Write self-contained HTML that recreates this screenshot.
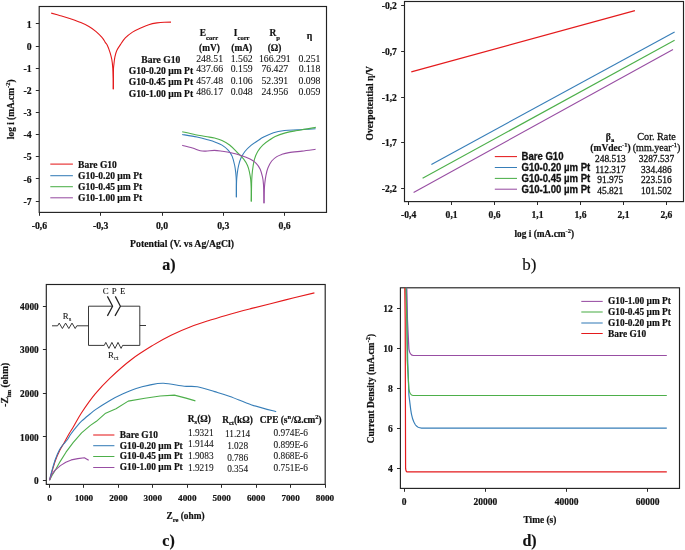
<!DOCTYPE html>
<html><head><meta charset="utf-8"><title>Figure</title>
<style>
html,body{margin:0;padding:0;background:#fff;}
svg{display:block;}
text{font-family:"Liberation Serif",serif;font-size:9.75px;fill:#111;}
.b{font-weight:bold;stroke:#111;stroke-width:0.2px;}
.r{font-weight:normal;stroke:#111;stroke-width:0.08px;}
.r2{font-weight:normal;stroke:#111;stroke-width:0.28px;}
.s{font-family:"Liberation Sans",sans-serif;font-weight:bold;stroke:#111;stroke-width:0.3px;}
.cap{font-size:16px;stroke-width:0.15px;}
</style></head><body>
<svg width="685" height="550" viewBox="0 0 685 550">
<rect width="685" height="550" fill="#fff"/>
<rect x="39.2" y="6.5" width="287.3" height="205.9" fill="none" stroke="#222" stroke-width="1.15"/>
<line x1="35.8" y1="23.5" x2="39.2" y2="23.5" stroke="#2a2a2a" stroke-width="1.0"/>
<text x="31.6" y="27.6" text-anchor="end" class="b">1</text>
<line x1="35.8" y1="46.5" x2="39.2" y2="46.5" stroke="#2a2a2a" stroke-width="1.0"/>
<text x="31.6" y="49.7" text-anchor="end" class="b">0</text>
<line x1="35.8" y1="68.5" x2="39.2" y2="68.5" stroke="#2a2a2a" stroke-width="1.0"/>
<text x="31.6" y="71.8" text-anchor="end" class="b">-1</text>
<line x1="35.8" y1="90.5" x2="39.2" y2="90.5" stroke="#2a2a2a" stroke-width="1.0"/>
<text x="31.6" y="94.0" text-anchor="end" class="b">-2</text>
<line x1="35.8" y1="112.5" x2="39.2" y2="112.5" stroke="#2a2a2a" stroke-width="1.0"/>
<text x="31.6" y="116.1" text-anchor="end" class="b">-3</text>
<line x1="35.8" y1="134.5" x2="39.2" y2="134.5" stroke="#2a2a2a" stroke-width="1.0"/>
<text x="31.6" y="138.3" text-anchor="end" class="b">-4</text>
<line x1="35.8" y1="156.5" x2="39.2" y2="156.5" stroke="#2a2a2a" stroke-width="1.0"/>
<text x="31.6" y="160.4" text-anchor="end" class="b">-5</text>
<line x1="35.8" y1="178.5" x2="39.2" y2="178.5" stroke="#2a2a2a" stroke-width="1.0"/>
<text x="31.6" y="182.6" text-anchor="end" class="b">-6</text>
<line x1="35.8" y1="201.5" x2="39.2" y2="201.5" stroke="#2a2a2a" stroke-width="1.0"/>
<text x="31.6" y="204.7" text-anchor="end" class="b">-7</text>
<line x1="39.5" y1="212.4" x2="39.5" y2="215.8" stroke="#2a2a2a" stroke-width="1.0"/>
<text x="39.4" y="229.3" text-anchor="middle" class="b">-0,6</text>
<line x1="100.5" y1="212.4" x2="100.5" y2="215.8" stroke="#2a2a2a" stroke-width="1.0"/>
<text x="100.7" y="229.3" text-anchor="middle" class="b">-0,3</text>
<line x1="162.5" y1="212.4" x2="162.5" y2="215.8" stroke="#2a2a2a" stroke-width="1.0"/>
<text x="162.0" y="229.3" text-anchor="middle" class="b">0,0</text>
<line x1="223.5" y1="212.4" x2="223.5" y2="215.8" stroke="#2a2a2a" stroke-width="1.0"/>
<text x="223.3" y="229.3" text-anchor="middle" class="b">0,3</text>
<line x1="284.5" y1="212.4" x2="284.5" y2="215.8" stroke="#2a2a2a" stroke-width="1.0"/>
<text x="284.6" y="229.3" text-anchor="middle" class="b">0,6</text>
<text x="182.0" y="247.4" text-anchor="middle" class="b">Potential (V. vs Ag/AgCl)</text>
<text transform="translate(14.2,109.3) rotate(-90)" text-anchor="middle" class="b" style="font-size:9.35px">log i (mA.cm<tspan dy="-4.5" font-size="6.5">-2</tspan><tspan dy="4.5">)</tspan></text>
<text x="168.8" y="270.2" text-anchor="middle" class="b cap">a)</text>
<path d="M51.2,13.1 C52.7,13.5 57.1,14.8 60.3,15.7 C63.5,16.6 67.1,17.6 70.5,18.8 C73.9,20.0 77.7,21.3 80.8,22.6 C83.9,23.9 86.4,25.0 88.9,26.5 C91.5,28.0 93.9,29.7 96.1,31.6 C98.3,33.5 100.7,35.9 102.2,37.7 C103.8,39.5 104.5,41.3 105.4,42.6 C106.3,43.9 106.7,43.9 107.4,45.4 C108.1,46.9 109.1,49.5 109.8,51.8 C110.5,54.1 111.3,56.6 111.8,59.4 C112.3,62.1 112.6,65.2 112.8,68.3 C113.0,71.4 113.1,74.5 113.2,78.0 C113.3,81.5 113.3,87.4 113.3,89.3" fill="none" stroke="#e41a1c" stroke-width="1.1" stroke-linejoin="round"/>
<path d="M113.3,89.3 C113.3,87.4 113.4,81.5 113.4,78.0 C113.4,74.5 113.4,70.5 113.5,68.3 C113.6,66.0 113.7,66.4 113.9,64.5 C114.1,62.6 114.4,59.1 114.9,56.8 C115.4,54.5 115.9,52.5 116.8,50.5 C117.7,48.5 119.0,46.7 120.4,44.6 C121.8,42.5 123.3,40.0 125.3,37.9 C127.3,35.8 129.9,33.8 132.5,32.1 C135.1,30.5 138.0,29.2 140.7,28.0 C143.4,26.8 146.1,25.6 148.8,24.7 C151.5,23.8 154.4,23.3 157.0,22.9 C159.6,22.5 161.9,22.3 164.2,22.2 C166.5,22.1 169.9,22.1 171.0,22.1" fill="none" stroke="#e41a1c" stroke-width="1.1" stroke-linejoin="round"/>
<path d="M182.2,134.5 C184.6,134.9 192.6,136.1 196.9,137.0 C201.2,137.9 204.6,138.9 207.8,139.8 C211.0,140.7 213.6,141.5 216.0,142.4 C218.4,143.3 219.9,143.8 222.0,145.1 C224.1,146.4 226.7,148.4 228.4,150.3 C230.1,152.2 231.1,153.9 232.2,156.4 C233.2,158.9 234.1,162.7 234.7,165.5 C235.3,168.3 235.5,170.5 235.8,173.1 C236.1,175.7 236.2,176.8 236.3,180.8 C236.4,184.8 236.4,194.6 236.4,197.3" fill="none" stroke="#377eb8" stroke-width="1.1" stroke-linejoin="round"/>
<path d="M236.4,197.3 C236.4,194.6 236.4,184.8 236.6,180.8 C236.8,176.8 237.0,175.7 237.3,173.1 C237.6,170.5 238.0,168.1 238.6,165.5 C239.2,162.9 240.0,160.1 241.1,157.8 C242.2,155.5 243.2,153.6 244.9,151.5 C246.6,149.4 249.0,147.0 251.3,145.1 C253.6,143.2 257.0,141.2 258.9,140.0 C260.8,138.8 260.2,138.8 262.6,137.6 C265.0,136.4 269.9,133.9 273.5,132.7 C277.1,131.5 280.5,131.0 284.5,130.5 C288.5,130.0 294.0,130.1 297.6,129.9 C301.2,129.7 303.4,129.4 306.4,129.2 C309.4,129.0 314.1,128.9 315.6,128.8" fill="none" stroke="#377eb8" stroke-width="1.1" stroke-linejoin="round"/>
<path d="M182.2,131.7 C184.4,132.2 191.5,133.9 195.4,134.7 C199.3,135.5 202.5,135.9 205.7,136.5 C208.9,137.1 211.8,137.3 214.5,138.0 C217.2,138.7 219.5,139.4 222.0,140.6 C224.5,141.8 227.0,143.0 229.6,145.0 C232.2,147.0 235.0,150.2 237.3,152.5 C239.7,154.8 242.0,156.9 243.7,159.1 C245.4,161.3 246.6,163.4 247.5,165.5 C248.4,167.6 248.9,169.5 249.4,171.8 C249.9,174.1 250.4,176.7 250.7,179.5 C251.0,182.3 251.1,184.8 251.2,188.4 C251.3,192.1 251.3,199.2 251.3,201.4" fill="none" stroke="#4daf4a" stroke-width="1.1" stroke-linejoin="round"/>
<path d="M251.3,201.4 C251.4,198.4 251.5,187.8 251.6,183.3 C251.7,178.8 251.9,177.2 252.1,174.4 C252.3,171.7 252.6,169.4 253.0,166.8 C253.4,164.2 253.7,161.7 254.5,159.1 C255.3,156.5 256.3,153.8 257.7,151.5 C259.1,149.2 260.8,147.0 262.8,145.1 C264.8,143.2 267.7,141.2 269.8,139.8 C271.9,138.4 272.6,137.6 275.2,136.4 C277.8,135.2 282.0,133.8 285.4,132.9 C288.8,132.0 292.3,131.4 295.7,130.8 C299.1,130.2 302.5,129.7 305.9,129.1 C309.2,128.5 314.1,127.7 315.8,127.4" fill="none" stroke="#4daf4a" stroke-width="1.1" stroke-linejoin="round"/>
<path d="M182.2,145.4 C183.9,145.8 189.5,147.1 192.5,148.0 C195.5,148.9 198.0,150.2 200.2,150.7 C202.4,151.2 203.3,151.1 205.7,151.1 C208.1,151.1 211.7,150.4 214.4,150.4 C217.1,150.4 219.2,150.8 222.0,151.2 C224.8,151.6 227.7,152.0 230.9,152.7 C234.1,153.4 237.9,154.4 241.1,155.5 C244.3,156.6 247.4,157.8 250.0,159.1 C252.6,160.4 254.7,161.9 256.4,163.6 C258.1,165.3 259.2,167.1 260.2,169.3 C261.2,171.5 261.9,174.4 262.5,176.9 C263.1,179.4 263.2,180.2 263.5,184.6 C263.8,189.0 263.9,200.2 264.0,203.3" fill="none" stroke="#984ea3" stroke-width="1.1" stroke-linejoin="round"/>
<path d="M264.0,203.3 C264.1,201.2 264.2,194.3 264.3,191.0 C264.4,187.7 264.5,185.9 264.8,183.3 C265.1,180.8 265.4,178.2 265.9,175.7 C266.4,173.1 266.9,170.4 267.9,168.0 C268.9,165.6 270.2,162.9 271.7,161.0 C273.2,159.1 275.1,157.7 276.8,156.6 C278.5,155.5 280.0,155.0 282.0,154.3 C284.0,153.6 285.6,153.1 288.9,152.6 C292.2,152.1 297.6,151.6 302.0,151.1 C306.4,150.6 313.3,149.6 315.6,149.3" fill="none" stroke="#984ea3" stroke-width="1.1" stroke-linejoin="round"/>
<line x1="50.3" y1="164.1" x2="72.9" y2="164.1" stroke="#e41a1c" stroke-width="1.05"/>
<text x="78.1" y="167.7" text-anchor="start" class="b" style="font-size:9.55px">Bare G10</text>
<line x1="50.3" y1="175.7" x2="72.9" y2="175.7" stroke="#377eb8" stroke-width="1.05"/>
<text x="78.1" y="179.3" text-anchor="start" class="b" style="font-size:9.55px">G10-0.20 µm Pt</text>
<line x1="50.3" y1="186.7" x2="72.9" y2="186.7" stroke="#4daf4a" stroke-width="1.05"/>
<text x="78.1" y="190.3" text-anchor="start" class="b" style="font-size:9.55px">G10-0.45 µm Pt</text>
<line x1="50.3" y1="197.8" x2="72.9" y2="197.8" stroke="#984ea3" stroke-width="1.05"/>
<text x="78.1" y="201.4" text-anchor="start" class="b" style="font-size:9.55px">G10-1.00 µm Pt</text>
<text x="209.0" y="36.0" text-anchor="middle" class="b" style="font-size:9.35px">E<tspan dy="3.5" font-size="6.6">corr</tspan></text>
<text x="209.5" y="50.7" text-anchor="middle" class="b" style="font-size:9.35px">(mV)</text>
<text x="241.7" y="36.0" text-anchor="middle" class="b" style="font-size:9.35px">I<tspan dy="3.5" font-size="6.6">corr</tspan></text>
<text x="241.7" y="50.7" text-anchor="middle" class="b" style="font-size:9.35px">(mA)</text>
<text x="274.6" y="36.0" text-anchor="middle" class="b" style="font-size:9.35px">R<tspan dy="3.5" font-size="6.6">p</tspan></text>
<text x="274.6" y="50.7" text-anchor="middle" class="b" style="font-size:9.35px">(Ω)</text>
<text x="309.5" y="39.0" text-anchor="middle" class="b">η</text>
<text x="160.8" y="63.4" text-anchor="middle" class="b" style="font-size:9.6px">Bare G10</text>
<text x="209.6" y="61.8" text-anchor="middle" class="r">248.51</text>
<text x="241.7" y="61.8" text-anchor="middle" class="r">1.562</text>
<text x="274.8" y="61.8" text-anchor="middle" class="r">166.291</text>
<text x="309.5" y="61.8" text-anchor="middle" class="r">0.251</text>
<text x="193.2" y="74.1" text-anchor="end" class="b" style="font-size:9.6px">G10-0.20 µm Pt</text>
<text x="209.6" y="72.3" text-anchor="middle" class="r">437.66</text>
<text x="241.7" y="72.3" text-anchor="middle" class="r">0.159</text>
<text x="274.8" y="72.3" text-anchor="middle" class="r">76.427</text>
<text x="309.5" y="72.3" text-anchor="middle" class="r">0.118</text>
<text x="193.2" y="85.1" text-anchor="end" class="b" style="font-size:9.6px">G10-0.45 µm Pt</text>
<text x="209.6" y="84.2" text-anchor="middle" class="r">457.48</text>
<text x="241.7" y="84.2" text-anchor="middle" class="r">0.106</text>
<text x="274.8" y="84.2" text-anchor="middle" class="r">52.391</text>
<text x="309.5" y="84.2" text-anchor="middle" class="r">0.098</text>
<text x="193.2" y="97.0" text-anchor="end" class="b" style="font-size:9.6px">G10-1.00 µm Pt</text>
<text x="209.6" y="95.2" text-anchor="middle" class="r">486.17</text>
<text x="241.7" y="95.2" text-anchor="middle" class="r">0.048</text>
<text x="274.8" y="95.2" text-anchor="middle" class="r">24.956</text>
<text x="309.5" y="95.2" text-anchor="middle" class="r">0.059</text>
<rect x="404.5" y="1.5" width="279.0" height="200.1" fill="none" stroke="#222" stroke-width="1.15"/>
<line x1="401.1" y1="5.5" x2="404.5" y2="5.5" stroke="#2a2a2a" stroke-width="1.0"/>
<text x="396.9" y="9.0" text-anchor="end" class="b" style="font-size:9.6px">-0,2</text>
<line x1="401.1" y1="51.5" x2="404.5" y2="51.5" stroke="#2a2a2a" stroke-width="1.0"/>
<text x="396.9" y="54.7" text-anchor="end" class="b" style="font-size:9.6px">-0,7</text>
<line x1="401.1" y1="97.5" x2="404.5" y2="97.5" stroke="#2a2a2a" stroke-width="1.0"/>
<text x="396.9" y="100.5" text-anchor="end" class="b" style="font-size:9.6px">-1,2</text>
<line x1="401.1" y1="142.5" x2="404.5" y2="142.5" stroke="#2a2a2a" stroke-width="1.0"/>
<text x="396.9" y="146.2" text-anchor="end" class="b" style="font-size:9.6px">-1,7</text>
<line x1="401.1" y1="188.5" x2="404.5" y2="188.5" stroke="#2a2a2a" stroke-width="1.0"/>
<text x="396.9" y="192.0" text-anchor="end" class="b" style="font-size:9.6px">-2,2</text>
<line x1="408.5" y1="201.6" x2="408.5" y2="205.0" stroke="#2a2a2a" stroke-width="1.0"/>
<text x="408.7" y="218.3" text-anchor="middle" class="b" style="font-size:9.6px">-0,4</text>
<line x1="451.5" y1="201.6" x2="451.5" y2="205.0" stroke="#2a2a2a" stroke-width="1.0"/>
<text x="451.6" y="218.3" text-anchor="middle" class="b" style="font-size:9.6px">0,1</text>
<line x1="494.5" y1="201.6" x2="494.5" y2="205.0" stroke="#2a2a2a" stroke-width="1.0"/>
<text x="494.6" y="218.3" text-anchor="middle" class="b" style="font-size:9.6px">0,6</text>
<line x1="537.5" y1="201.6" x2="537.5" y2="205.0" stroke="#2a2a2a" stroke-width="1.0"/>
<text x="537.5" y="218.3" text-anchor="middle" class="b" style="font-size:9.6px">1,1</text>
<line x1="580.5" y1="201.6" x2="580.5" y2="205.0" stroke="#2a2a2a" stroke-width="1.0"/>
<text x="580.5" y="218.3" text-anchor="middle" class="b" style="font-size:9.6px">1,6</text>
<line x1="623.5" y1="201.6" x2="623.5" y2="205.0" stroke="#2a2a2a" stroke-width="1.0"/>
<text x="623.5" y="218.3" text-anchor="middle" class="b" style="font-size:9.6px">2,1</text>
<line x1="666.5" y1="201.6" x2="666.5" y2="205.0" stroke="#2a2a2a" stroke-width="1.0"/>
<text x="666.4" y="218.3" text-anchor="middle" class="b" style="font-size:9.6px">2,6</text>
<text x="544.3" y="237.3" text-anchor="middle" class="b" style="font-size:9.35px">log i (mA.cm<tspan dy="-4.5" font-size="6.5">-2</tspan><tspan dy="4.5">)</tspan></text>
<text transform="translate(372.8,103.2) rotate(-90)" text-anchor="middle" class="b" style="font-size:9.6px">Overpotential η/V</text>
<text x="529.4" y="269.5" text-anchor="middle" class="r cap" style="font-size:17px">b)</text>
<line x1="411.3" y1="71.9" x2="634.9" y2="10.6" stroke="#e41a1c" stroke-width="1.1"/>
<line x1="431.4" y1="164.5" x2="674.6" y2="31.9" stroke="#377eb8" stroke-width="1.1"/>
<line x1="422.6" y1="178.3" x2="674.6" y2="40.2" stroke="#4daf4a" stroke-width="1.1"/>
<line x1="413.6" y1="192.4" x2="673.0" y2="49.5" stroke="#984ea3" stroke-width="1.1"/>
<line x1="494.8" y1="156.6" x2="517.0" y2="156.6" stroke="#e41a1c" stroke-width="1.05"/>
<text transform="translate(521.5,160.1) scale(0.94,1)" class="s" style="font-size:10.2px">Bare G10</text>
<line x1="494.8" y1="167.5" x2="517.0" y2="167.5" stroke="#377eb8" stroke-width="1.05"/>
<text transform="translate(521.5,170.8) scale(0.94,1)" class="s" style="font-size:10.2px">G10-0.20 µm Pt</text>
<line x1="494.8" y1="178.4" x2="517.0" y2="178.4" stroke="#4daf4a" stroke-width="1.05"/>
<text transform="translate(521.5,181.8) scale(0.94,1)" class="s" style="font-size:10.2px">G10-0.45 µm Pt</text>
<line x1="494.8" y1="189.2" x2="517.0" y2="189.2" stroke="#984ea3" stroke-width="1.05"/>
<text transform="translate(521.5,192.7) scale(0.94,1)" class="s" style="font-size:10.2px">G10-1.00 µm Pt</text>
<text x="610.0" y="139.9" text-anchor="middle" class="b">β<tspan dy="2" font-size="6.6">a</tspan></text>
<text x="610.5" y="150.7" text-anchor="middle" class="b" style="font-size:9.55px">(mVdec<tspan dy="-3.3" font-size="6.5">-1</tspan><tspan dy="3.3">)</tspan></text>
<text x="656.5" y="139.9" text-anchor="middle" class="r2" style="font-size:10.2px">Cor. Rate</text>
<text x="656.6" y="150.7" text-anchor="middle" class="r2" style="font-size:10.1px">(mm.year<tspan dy="-3.3" font-size="6.5">-1</tspan><tspan dy="3.3">)</tspan></text>
<text x="610.3" y="161.7" text-anchor="middle" class="r2" style="font-size:9.45px">248.513</text>
<text x="656.4" y="161.7" text-anchor="middle" class="r2" style="font-size:9.45px">3287.537</text>
<text x="610.3" y="172.5" text-anchor="middle" class="r2" style="font-size:9.45px">112.317</text>
<text x="656.4" y="172.5" text-anchor="middle" class="r2" style="font-size:9.45px">334.486</text>
<text x="610.3" y="183.4" text-anchor="middle" class="r2" style="font-size:9.45px">91.975</text>
<text x="656.4" y="183.4" text-anchor="middle" class="r2" style="font-size:9.45px">223.516</text>
<text x="610.3" y="194.2" text-anchor="middle" class="r2" style="font-size:9.45px">45.821</text>
<text x="656.4" y="194.2" text-anchor="middle" class="r2" style="font-size:9.45px">101.502</text>
<rect x="46.3" y="284.5" width="278.9" height="199.9" fill="none" stroke="#222" stroke-width="1.15"/>
<line x1="42.9" y1="480.5" x2="46.3" y2="480.5" stroke="#2a2a2a" stroke-width="1.0"/>
<text x="38.7" y="484.1" text-anchor="end" class="b" style="font-size:9.3px">0</text>
<line x1="42.9" y1="436.5" x2="46.3" y2="436.5" stroke="#2a2a2a" stroke-width="1.0"/>
<text x="38.7" y="440.5" text-anchor="end" class="b" style="font-size:9.3px">1000</text>
<line x1="42.9" y1="393.5" x2="46.3" y2="393.5" stroke="#2a2a2a" stroke-width="1.0"/>
<text x="38.7" y="397.0" text-anchor="end" class="b" style="font-size:9.3px">2000</text>
<line x1="42.9" y1="349.5" x2="46.3" y2="349.5" stroke="#2a2a2a" stroke-width="1.0"/>
<text x="38.7" y="353.4" text-anchor="end" class="b" style="font-size:9.3px">3000</text>
<line x1="42.9" y1="306.5" x2="46.3" y2="306.5" stroke="#2a2a2a" stroke-width="1.0"/>
<text x="38.7" y="309.9" text-anchor="end" class="b" style="font-size:9.3px">4000</text>
<line x1="49.5" y1="484.4" x2="49.5" y2="487.8" stroke="#2a2a2a" stroke-width="1.0"/>
<text x="49.5" y="501.0" text-anchor="middle" class="b" style="font-size:9.2px">0</text>
<line x1="83.5" y1="484.4" x2="83.5" y2="487.8" stroke="#2a2a2a" stroke-width="1.0"/>
<text x="83.9" y="501.0" text-anchor="middle" class="b" style="font-size:9.2px">1000</text>
<line x1="118.5" y1="484.4" x2="118.5" y2="487.8" stroke="#2a2a2a" stroke-width="1.0"/>
<text x="118.4" y="501.0" text-anchor="middle" class="b" style="font-size:9.2px">2000</text>
<line x1="152.5" y1="484.4" x2="152.5" y2="487.8" stroke="#2a2a2a" stroke-width="1.0"/>
<text x="152.8" y="501.0" text-anchor="middle" class="b" style="font-size:9.2px">3000</text>
<line x1="187.5" y1="484.4" x2="187.5" y2="487.8" stroke="#2a2a2a" stroke-width="1.0"/>
<text x="187.3" y="501.0" text-anchor="middle" class="b" style="font-size:9.2px">4000</text>
<line x1="221.5" y1="484.4" x2="221.5" y2="487.8" stroke="#2a2a2a" stroke-width="1.0"/>
<text x="221.7" y="501.0" text-anchor="middle" class="b" style="font-size:9.2px">5000</text>
<line x1="256.5" y1="484.4" x2="256.5" y2="487.8" stroke="#2a2a2a" stroke-width="1.0"/>
<text x="256.1" y="501.0" text-anchor="middle" class="b" style="font-size:9.2px">6000</text>
<line x1="290.5" y1="484.4" x2="290.5" y2="487.8" stroke="#2a2a2a" stroke-width="1.0"/>
<text x="290.6" y="501.0" text-anchor="middle" class="b" style="font-size:9.2px">7000</text>
<line x1="325.5" y1="484.4" x2="325.5" y2="487.8" stroke="#2a2a2a" stroke-width="1.0"/>
<text x="325.0" y="501.0" text-anchor="middle" class="b" style="font-size:9.2px">8000</text>
<text x="185.5" y="518.5" text-anchor="middle" class="b" style="font-size:9.3px">Z<tspan dy="3" font-size="6.6">re</tspan><tspan dy="-3"> (ohm)</tspan></text>
<text transform="translate(7.8,384.8) rotate(-90)" text-anchor="middle" class="b" style="font-size:9.65px">-Z<tspan dy="2.8" font-size="6.6">im</tspan><tspan dy="-2.8"> (ohm)</tspan></text>
<text x="168.5" y="546.2" text-anchor="middle" class="b cap">c)</text>
<path d="M49.5,480.2 C49.9,478.9 50.8,475.6 51.8,472.3 C52.8,469.0 54.1,464.1 55.4,460.5 C56.7,456.9 58.2,453.4 59.7,450.4 C61.2,447.4 62.6,445.5 64.2,442.7 C65.8,439.9 67.8,436.0 69.4,433.3 C71.0,430.6 71.7,429.7 73.7,426.3 C75.7,422.9 77.9,418.4 81.4,413.0 C85.0,407.6 90.2,400.0 95.0,394.2 C99.8,388.4 103.9,383.9 110.0,378.1 C116.1,372.3 124.5,364.7 131.8,359.2 C139.1,353.7 147.1,348.9 153.6,344.9 C160.1,340.9 164.9,338.2 171.1,335.2 C177.3,332.2 184.1,329.2 190.7,326.7 C197.2,324.2 203.8,322.2 210.4,320.1 C217.0,318.0 223.1,316.1 230.0,314.2 C236.9,312.2 242.4,310.8 251.7,308.4 C261.0,306.0 275.2,302.5 285.6,299.9 C296.1,297.3 309.6,294.1 314.4,292.9" fill="none" stroke="#e41a1c" stroke-width="1.1" stroke-linejoin="round"/>
<path d="M49.5,480.2 C49.9,478.7 50.8,474.6 51.8,471.1 C52.8,467.6 54.1,462.9 55.4,459.3 C56.7,455.8 58.1,452.4 59.5,449.8 C60.9,447.2 62.3,445.6 63.6,444.0 C64.9,442.4 65.9,441.7 67.1,440.0 C68.3,438.3 69.4,436.2 70.9,434.0 C72.5,431.8 74.6,429.1 76.4,426.9 C78.2,424.7 79.5,423.0 81.8,420.9 C84.1,418.8 87.7,415.9 90.0,414.0 C92.3,412.1 92.2,411.9 95.5,409.6 C98.8,407.3 105.5,403.0 110.0,400.4 C114.5,397.8 118.1,396.0 122.5,394.0 C126.9,392.0 131.7,389.9 136.2,388.4 C140.7,386.9 144.8,386.0 149.3,385.1 C153.9,384.2 157.7,383.1 163.5,383.3 C169.3,383.5 178.6,385.6 184.2,386.2 C189.8,386.8 192.2,385.9 197.3,386.8 C202.4,387.7 209.2,390.0 214.7,391.6 C220.1,393.2 223.8,394.2 230.0,396.4 C236.2,398.6 244.0,402.3 251.7,404.9 C259.4,407.4 272.1,410.6 276.2,411.7" fill="none" stroke="#377eb8" stroke-width="1.1" stroke-linejoin="round"/>
<path d="M49.5,480.2 L52.0,475.5 L55.4,469.9 L60.1,461.6 L66.0,452.2 L73.1,442.7 L81.6,432.8 L90.4,425.4 L96.4,421.3 L105.1,413.6 L116.0,408.8 L128.2,401.1 L144.9,398.2 L160.2,396.0 L174.4,395.1 L186.0,398.1 L195.4,400.9" fill="none" stroke="#4daf4a" stroke-width="1.1" stroke-linejoin="round" stroke-linecap="butt"/>
<path d="M49.5,480.2 L51.6,474.7 L54.9,470.4 L60.4,465.6 L65.8,462.3 L71.3,459.9 L77.8,458.6 L84.4,457.7 L86.5,459.0 L88.7,460.3" fill="none" stroke="#984ea3" stroke-width="1.1" stroke-linejoin="round" stroke-linecap="butt"/>
<line x1="93.2" y1="435.0" x2="114.4" y2="435.0" stroke="#e41a1c" stroke-width="1.05"/>
<text x="119.8" y="437.9" text-anchor="start" class="b" style="font-size:9.4px">Bare G10</text>
<line x1="93.2" y1="445.7" x2="114.4" y2="445.7" stroke="#377eb8" stroke-width="1.05"/>
<text x="119.8" y="448.6" text-anchor="start" class="b" style="font-size:9.4px">G10-0.20 µm Pt</text>
<line x1="93.2" y1="456.5" x2="114.4" y2="456.5" stroke="#4daf4a" stroke-width="1.05"/>
<text x="119.8" y="459.4" text-anchor="start" class="b" style="font-size:9.4px">G10-0.45 µm Pt</text>
<line x1="93.2" y1="467.5" x2="114.4" y2="467.5" stroke="#984ea3" stroke-width="1.05"/>
<text x="119.8" y="470.4" text-anchor="start" class="b" style="font-size:9.4px">G10-1.00 µm Pt</text>
<text x="199.3" y="422.2" text-anchor="middle" class="b" style="font-size:9.3px">R<tspan dy="2.2" font-size="6.6">s</tspan><tspan dy="-2.2">(Ω)</tspan></text>
<text x="237.5" y="423.2" text-anchor="middle" class="b" style="font-size:9.3px">R<tspan dy="2.2" font-size="6.6">ct</tspan><tspan dy="-2.2">(kΩ)</tspan></text>
<text x="290.8" y="423.2" text-anchor="middle" class="b" style="font-size:9.3px">CPE (s<tspan dy="-4.5" font-size="6.5">n</tspan><tspan dy="4.5">/Ω.cm</tspan><tspan dy="-4.5" font-size="6.5">2</tspan><tspan dy="4.5">)</tspan></text>
<text x="200.8" y="435.5" text-anchor="middle" class="r" style="font-size:9.3px">1.9321</text>
<text x="237.6" y="436.8" text-anchor="middle" class="r" style="font-size:9.3px">11.214</text>
<text x="290.7" y="435.7" text-anchor="middle" class="r" style="font-size:9.3px">0.974E-6</text>
<text x="200.8" y="447.4" text-anchor="middle" class="r" style="font-size:9.3px">1.9144</text>
<text x="237.6" y="448.7" text-anchor="middle" class="r" style="font-size:9.3px">1.028</text>
<text x="290.7" y="447.6" text-anchor="middle" class="r" style="font-size:9.3px">0.899E-6</text>
<text x="200.8" y="459.2" text-anchor="middle" class="r" style="font-size:9.3px">1.9083</text>
<text x="237.6" y="460.5" text-anchor="middle" class="r" style="font-size:9.3px">0.786</text>
<text x="290.7" y="459.4" text-anchor="middle" class="r" style="font-size:9.3px">0.868E-6</text>
<text x="200.8" y="471.1" text-anchor="middle" class="r" style="font-size:9.3px">1.9219</text>
<text x="237.6" y="472.4" text-anchor="middle" class="r" style="font-size:9.3px">0.354</text>
<text x="290.7" y="471.2" text-anchor="middle" class="r" style="font-size:9.3px">0.751E-6</text>
<line x1="52.0" y1="325.8" x2="57.6" y2="325.8" stroke="#222" stroke-width="0.9"/>
<path d="M57.6,325.8 L59.2,323.1 L62.4,328.5 L65.6,323.1 L68.8,328.5 L72.0,323.1 L75.2,328.5 L76.8,325.8" fill="none" stroke="#222" stroke-width="0.9" stroke-linejoin="round" stroke-linecap="butt"/>
<line x1="76.8" y1="325.8" x2="88.4" y2="325.8" stroke="#222" stroke-width="0.9"/>
<path d="M112.6,306.2 L88.5,306.2 L88.5,345.4 L104.3,345.4" fill="none" stroke="#222" stroke-width="0.9" stroke-linejoin="round" stroke-linecap="butt"/>
<path d="M104.3,345.4 L105.8,342.4 L108.9,348.4 L111.9,342.4 L115.0,348.4 L118.0,342.4 L121.1,348.4 L122.6,345.4" fill="none" stroke="#222" stroke-width="0.9" stroke-linejoin="round" stroke-linecap="butt"/>
<path d="M122.6,345.4 L139.8,345.4 L139.8,306.2 L120.4,306.2" fill="none" stroke="#222" stroke-width="0.9" stroke-linejoin="round" stroke-linecap="butt"/>
<line x1="139.8" y1="325.5" x2="146.0" y2="325.5" stroke="#222" stroke-width="0.9"/>
<path d="M107.4,296.4 L112.6,306.2 L107.4,315.9" fill="none" stroke="#222" stroke-width="1.25" stroke-linejoin="round" stroke-linecap="butt"/>
<path d="M115.3,296.4 L120.4,306.2 L115.0,315.9" fill="none" stroke="#222" stroke-width="1.25" stroke-linejoin="round" stroke-linecap="butt"/>
<text x="102.8" y="293.8" text-anchor="start" class="r" style="font-size:8.8px" letter-spacing="3.2">CPE</text>
<text x="62.8" y="319.2" text-anchor="start" class="r" style="font-size:8.8px">R<tspan dy="1.8" font-size="6.6">s</tspan></text>
<text x="108.0" y="357.9" text-anchor="start" class="r" style="font-size:8.8px">R<tspan dy="1.8" font-size="6.6">ct</tspan></text>
<rect x="400.4" y="287.8" width="279.1" height="200.6" fill="none" stroke="#222" stroke-width="1.15"/>
<line x1="397.0" y1="468.5" x2="400.4" y2="468.5" stroke="#2a2a2a" stroke-width="1.0"/>
<text x="392.8" y="471.6" text-anchor="end" class="b" style="font-size:9.6px">4</text>
<line x1="397.0" y1="428.5" x2="400.4" y2="428.5" stroke="#2a2a2a" stroke-width="1.0"/>
<text x="392.8" y="431.6" text-anchor="end" class="b" style="font-size:9.6px">6</text>
<line x1="397.0" y1="388.5" x2="400.4" y2="388.5" stroke="#2a2a2a" stroke-width="1.0"/>
<text x="392.8" y="391.6" text-anchor="end" class="b" style="font-size:9.6px">8</text>
<line x1="397.0" y1="348.5" x2="400.4" y2="348.5" stroke="#2a2a2a" stroke-width="1.0"/>
<text x="392.8" y="351.6" text-anchor="end" class="b" style="font-size:9.6px">10</text>
<line x1="397.0" y1="308.5" x2="400.4" y2="308.5" stroke="#2a2a2a" stroke-width="1.0"/>
<text x="392.8" y="311.6" text-anchor="end" class="b" style="font-size:9.6px">12</text>
<line x1="404.5" y1="488.4" x2="404.5" y2="491.8" stroke="#2a2a2a" stroke-width="1.0"/>
<text x="404.1" y="504.6" text-anchor="middle" class="b" style="font-size:9.5px">0</text>
<line x1="485.5" y1="488.4" x2="485.5" y2="491.8" stroke="#2a2a2a" stroke-width="1.0"/>
<text x="485.3" y="504.6" text-anchor="middle" class="b" style="font-size:9.5px">20000</text>
<line x1="566.5" y1="488.4" x2="566.5" y2="491.8" stroke="#2a2a2a" stroke-width="1.0"/>
<text x="566.5" y="504.6" text-anchor="middle" class="b" style="font-size:9.5px">40000</text>
<line x1="647.5" y1="488.4" x2="647.5" y2="491.8" stroke="#2a2a2a" stroke-width="1.0"/>
<text x="647.7" y="504.6" text-anchor="middle" class="b" style="font-size:9.5px">60000</text>
<text x="539.9" y="523.0" text-anchor="middle" class="b" style="font-size:9.4px">Time (s)</text>
<text transform="translate(374.1,388.6) rotate(-90)" text-anchor="middle" class="b" style="font-size:9.5px">Current Density (mA.cm<tspan dy="-4.5" font-size="6.5">-2</tspan><tspan dy="4.5">)</tspan></text>
<text x="529.5" y="545.6" text-anchor="middle" class="b cap">d)</text>
<path d="M406.8,287.8 L407.5,320 L408.9,349.1 C409.6,353.5 411,355.5 413.5,355.5 L666.8,355.5" fill="none" stroke="#984ea3" stroke-width="1.2"/>
<path d="M406.3,287.8 L407.7,360 L408.9,395 L410.7,409.5 C411.5,416 412.5,420.5 415.5,425.0 C417.5,427.5 419.5,428.1 421.5,428.1 L666.8,428.1" fill="none" stroke="#377eb8" stroke-width="1.2"/>
<path d="M405.8,287.8 L406.8,320 L407.2,360 L408.9,389 C409.6,393.5 410.8,395.5 413.0,395.5 L666.8,395.5" fill="none" stroke="#4daf4a" stroke-width="1.2"/>
<path d="M404.8,287.8 L405.2,320 L405.6,468.4 C405.8,470.5 406.2,471.9 407.0,471.9 L666.8,471.9" fill="none" stroke="#e41a1c" stroke-width="1.2"/>
<line x1="581.3" y1="301.4" x2="602.7" y2="301.4" stroke="#984ea3" stroke-width="1.05"/>
<text x="608.0" y="304.2" text-anchor="start" class="b" style="font-size:9.4px">G10-1.00 µm Pt</text>
<line x1="581.3" y1="312.0" x2="602.7" y2="312.0" stroke="#4daf4a" stroke-width="1.05"/>
<text x="608.0" y="315.1" text-anchor="start" class="b" style="font-size:9.4px">G10-0.45 µm Pt</text>
<line x1="581.3" y1="323.0" x2="602.7" y2="323.0" stroke="#377eb8" stroke-width="1.05"/>
<text x="608.0" y="325.9" text-anchor="start" class="b" style="font-size:9.4px">G10-0.20 µm Pt</text>
<line x1="581.3" y1="333.5" x2="602.7" y2="333.5" stroke="#e41a1c" stroke-width="1.05"/>
<text x="608.0" y="336.6" text-anchor="start" class="b" style="font-size:9.4px">Bare G10</text>
</svg></body></html>
